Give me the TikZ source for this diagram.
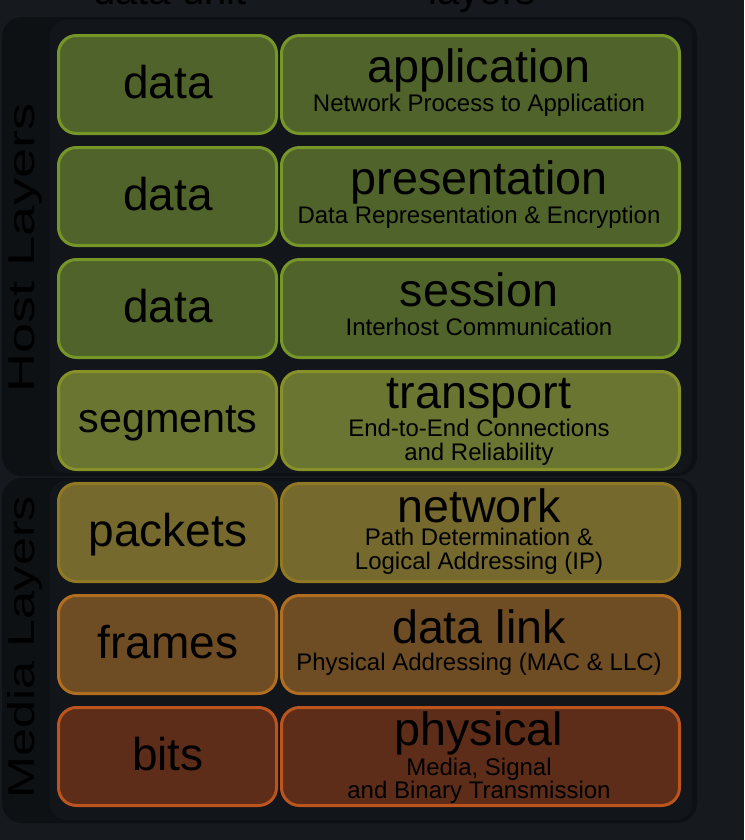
\documentclass[tikz,border=0pt]{standalone}
\usepackage{fontspec}
\setmainfont{Liberation Sans}
\usepackage{graphicx}
\definecolor{osibg}{RGB}{22,25,29}
\definecolor{ositab}{RGB}{14,17,20}
\definecolor{osipanel}{RGB}{18,21,25}
\definecolor{hostfill}{RGB}{80,99,42}
\definecolor{hostline}{RGB}{118,150,40}
\definecolor{transfill}{RGB}{107,117,50}
\definecolor{transline}{RGB}{135,145,40}
\definecolor{netfill}{RGB}{117,105,46}
\definecolor{netline}{RGB}{145,120,35}
\definecolor{linkfill}{RGB}{110,76,36}
\definecolor{linkline}{RGB}{178,110,32}
\definecolor{physfill}{RGB}{93,45,26}
\definecolor{physline}{RGB}{188,84,30}

\begin{document}
\begin{tikzpicture}[x=0.75pt, y=-0.75pt,
    unitbox/.style={draw, line width=2.25pt, rounded corners=13.5pt, minimum width=163.5pt, minimum height=73.5pt, inner sep=0pt},
    layerbox/.style={unitbox, minimum width=298.5pt},
    unittxt/.style={anchor=base, font=\fontsize{34.5}{40}\selectfont},
    ttl/.style={anchor=base, font=\fontsize{35}{40}\selectfont},
    subttl/.style={anchor=base, font=\fontsize{18}{22}\selectfont},
    sidetxt/.style={anchor=base, rotate=90, font=\fontsize{28}{32}\selectfont},
    toptxt/.style={anchor=base, font=\fontsize{30}{34}\selectfont}]
    \path[use as bounding box, fill=osibg] (0,0) rectangle (744,840);

    % host and media panels
    \fill[ositab, rounded corners=15pt] (2,17) rectangle (697,476);
    \fill[osipanel, rounded corners=12pt] (50,20) rectangle (692,473);
    \fill[ositab, rounded corners=15pt] (2,478) rectangle (697,823);
    \fill[osipanel, rounded corners=12pt] (50,481) rectangle (692,820);
    \node[sidetxt] (host-lbl) at (35,248) {\scalebox{1.45}[1]{Host Layers}};
    \node[sidetxt] (media-lbl) at (35,647) {\scalebox{1.35}[1]{Media Layers}};
    \node[toptxt] (unit-head) at (170,4) {data unit};
    \node[toptxt] (layer-head) at (482,4) {layers};

    % application
    \node[unitbox, fill=hostfill, draw=hostline] (app-unit) at (167.5,84.5) {};
    \node[layerbox, fill=hostfill, draw=hostline] (app) at (480.5,84.5) {};
    \node[unittxt] (app-unit-txt) at (168,98) {data};
    \node[ttl] (app-ttl) at (479,82) {application};
    \node[subttl] (app-sub) at (479,111) {Network Process to Application};

    % presentation
    \node[unitbox, fill=hostfill, draw=hostline] (pres-unit) at (167.5,196.5) {};
    \node[layerbox, fill=hostfill, draw=hostline] (pres) at (480.5,196.5) {};
    \node[unittxt] (pres-unit-txt) at (168,210) {data};
    \node[ttl] (pres-ttl) at (479,194) {presentation};
    \node[subttl] (pres-sub) at (479,223) {Data Representation \& Encryption};

    % session
    \node[unitbox, fill=hostfill, draw=hostline] (sess-unit) at (167.5,308.5) {};
    \node[layerbox, fill=hostfill, draw=hostline] (sess) at (480.5,308.5) {};
    \node[unittxt] (sess-unit-txt) at (168,322) {data};
    \node[ttl] (sess-ttl) at (479,306) {session};
    \node[subttl] (sess-sub) at (479,335) {Interhost Communication};

    % transport
    \node[unitbox, fill=transfill, draw=transline] (trans-unit) at (167.5,420.5) {};
    \node[layerbox, fill=transfill, draw=transline] (trans) at (480.5,420.5) {};
    \node[unittxt, font=\fontsize{31}{36}\selectfont] (trans-unit-txt) at (168,432) {segments};
    \node[ttl] (trans-ttl) at (479,408) {transport};
    \node[subttl] (trans-sub1) at (479,436) {End-to-End Connections};
    \node[subttl] (trans-sub2) at (479,460) {and Reliability};

    % network
    \node[unitbox, fill=netfill, draw=netline] (net-unit) at (167.5,532.5) {};
    \node[layerbox, fill=netfill, draw=netline] (net) at (480.5,532.5) {};
    \node[unittxt] (net-unit-txt) at (168,546) {packets};
    \node[ttl] (net-ttl) at (479,522) {network};
    \node[subttl] (net-sub1) at (479,545) {Path Determination \&};
    \node[subttl] (net-sub2) at (479,569) {Logical Addressing (IP)};

    % data link
    \node[unitbox, fill=linkfill, draw=linkline] (link-unit) at (167.5,644.5) {};
    \node[layerbox, fill=linkfill, draw=linkline] (link) at (480.5,644.5) {};
    \node[unittxt] (link-unit-txt) at (168,658) {frames};
    \node[ttl] (link-ttl) at (479,643) {data link};
    \node[subttl] (link-sub) at (479,670) {Physical Addressing (MAC \& LLC)};

    % physical
    \node[unitbox, fill=physfill, draw=physline] (phys-unit) at (167.5,756.5) {};
    \node[layerbox, fill=physfill, draw=physline] (phys) at (480.5,756.5) {};
    \node[unittxt] (phys-unit-txt) at (168,770) {bits};
    \node[ttl] (phys-ttl) at (479,745) {physical};
    \node[subttl] (phys-sub1) at (479,775) {Media, Signal};
    \node[subttl] (phys-sub2) at (479,798) {and Binary Transmission};
\end{tikzpicture}
\end{document}
